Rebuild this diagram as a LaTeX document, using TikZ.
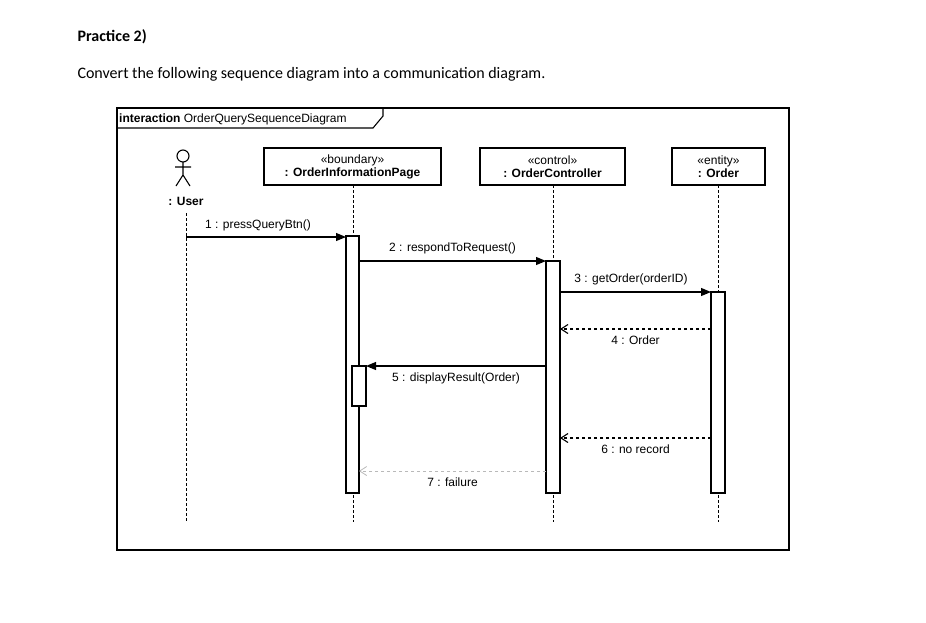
\documentclass[tikz,border=0pt]{standalone}
\usepackage{fontspec}
\setmainfont{Liberation Sans}
\newfontfamily\calfont{Carlito}
\usetikzlibrary{arrows.meta}
\begin{document}
\begin{tikzpicture}[x=1pt,y=-1pt,
  obj/.style={draw,line width=1.1pt,fill=white,align=center,font=\fontsize{12}{13}\selectfont,inner sep=0pt},
  life/.style={densely dashed,line width=0.8pt},
  act/.style={draw,line width=1.1pt,fill=white},
  msg/.style={line width=1.1pt,-{Triangle[length=10pt,width=8pt]}},
  rep/.style={dashed,line width=1.1pt,-{Straight Barb[length=7pt,width=9pt]}},
  lbl/.style={font=\fontsize{12}{13}\selectfont}]
\useasboundingbox (0,0) rectangle (926,622);
\node[anchor=west,font=\calfont\bfseries\fontsize{16}{18}\selectfont] (t1) at (74,37) {Practice 2)};
\node[anchor=west,font=\calfont\fontsize{16}{18}\selectfont] (t2) at (74,74) {Convert the following sequence diagram into a communication diagram.};
% frame
\draw[line width=1.1pt] (117,108) rectangle (789,550);
\draw[line width=1.1pt] (117,128) -- (373,128) -- (383,116) -- (383,108);
\node[anchor=west,lbl,inner sep=1pt] (fr) at (118,119) {\textbf{interaction} OrderQuerySequenceDiagram};
% actor
\draw[line width=1.1pt] (183,156) circle (6);
\draw[line width=1.1pt] (183,162) -- (183,175) (175,167) -- (191,167) (176,186) -- (183,175) -- (190,186);
\node[lbl] (user) at (186,201) {\textbf{: User}};
% objects
\node[obj,minimum width=177,minimum height=37] (bp) at (352.5,166.5) {«boundary»\\\textbf{: OrderInformationPage}};
\node[obj,minimum width=145,minimum height=37] (oc) at (552.5,166.5) {«control»\\\textbf{: OrderController}};
\node[obj,minimum width=93,minimum height=37] (oe) at (718.5,166.5) {«entity»\\\textbf{: Order}};
% lifelines
\draw[life] (186,213) -- (186,522);
\draw[life] (353,185) -- (353,522);
\draw[life] (553,185) -- (553,522);
\draw[life] (718,185) -- (718,522);
% activations
\draw[act] (346,236) rectangle (359,493);
\draw[act] (352,366) rectangle (366,406);
\draw[act] (546,261) rectangle (560,493);
\draw[act] (711,292) rectangle (725,493);
% messages
\coordinate (u1) at (186,237); \coordinate (b1) at (346,237);
\draw[msg] (u1) -- (b1) node[lbl,pos=0.45,above=2pt] {1 : pressQueryBtn()};
\coordinate (b2) at (359,261); \coordinate (c2) at (546,261);
\draw[msg] (b2) -- (c2) node[lbl,pos=0.5,above=3pt] {2 : respondToRequest()};
\coordinate (c3) at (560,292); \coordinate (e3) at (711,292);
\draw[msg] (c3) -- (e3) node[lbl,pos=0.47,above=3pt] {3 : getOrder(orderID)};
\coordinate (e4) at (711,329); \coordinate (c4) at (560,329);
\draw[rep] (e4) -- (c4) node[lbl,pos=0.5,below=3pt] {4 : Order};
\coordinate (c5) at (546,366); \coordinate (b5) at (366,366);
\draw[msg] (c5) -- (b5) node[lbl,pos=0.5,below=3pt] {5 : displayResult(Order)};
\coordinate (e6) at (711,438); \coordinate (c6) at (560,438);
\draw[rep] (e6) -- (c6) node[lbl,pos=0.5,below=3pt] {6 : no record};
\coordinate (c7) at (546,471); \coordinate (b7) at (359,471);
\draw[rep,gray!55,line width=0.8pt] (c7) -- (b7) node[lbl,text=black,pos=0.5,below=3pt] {7 : failure};
\end{tikzpicture}
\end{document}
